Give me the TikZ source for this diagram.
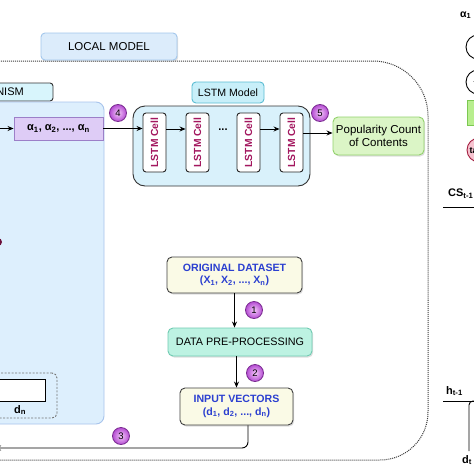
\documentclass[tikz,border=0pt]{standalone}
\usepackage{fontspec}
\setmainfont{Liberation Sans}
\usepackage{graphicx}
\usetikzlibrary{arrows.meta,shadows,calc}
\definecolor{lmfill}{HTML}{DCECFB}
\definecolor{lmdraw}{HTML}{A3C7EC}
\definecolor{panelfill}{HTML}{DDEFFD}
\definecolor{paneldraw}{HTML}{A8C4EC}
\definecolor{tabfill}{HTML}{D8F5FC}
\definecolor{alphafill}{HTML}{DECCF6}
\definecolor{alphadraw}{HTML}{9C7FC8}
\definecolor{lstmfill}{HTML}{D9F1FB}
\definecolor{lstmtabfill}{HTML}{C8EFF9}
\definecolor{lstmtabdraw}{HTML}{5CBDD3}
\definecolor{cellc}{HTML}{A3175F}
\definecolor{popfill}{HTML}{DBF5C6}
\definecolor{popdraw}{HTML}{92D26C}
\definecolor{dsfill}{HTML}{FAFAE6}
\definecolor{dstext}{HTML}{2B3FD0}
\definecolor{ppfill}{HTML}{BDF2E2}
\definecolor{ppdraw}{HTML}{6FCBB2}
\definecolor{numin}{HTML}{F4C8FA}
\definecolor{numout}{HTML}{B44CD2}
\definecolor{numdraw}{HTML}{7A2C90}
\definecolor{greenbar}{HTML}{B8EE8E}
\definecolor{greendraw}{HTML}{7CC852}
\definecolor{tanhfill}{HTML}{F6C2CF}
\definecolor{tanhdraw}{HTML}{A31D3F}
\definecolor{dotred}{HTML}{6B0F3A}
\definecolor{framec}{HTML}{3C3C3C}
\begin{document}
\begin{tikzpicture}[x=1pt,y=-1pt,
  every node/.style={inner sep=0pt, font=\fontsize{11}{13}\selectfont},
  arr/.style={line width=0.9pt, -{Stealth[length=6pt,width=5pt]}},
  ln/.style={line width=0.9pt},
  numc/.style={circle, draw=numdraw, line width=0.8pt, minimum size=17pt, inner color=numin, outer color=numout, font=\fontsize{9.5}{10}\selectfont},
  shad/.style={drop shadow={opacity=0.25, shadow xshift=1.2pt, shadow yshift=-1.5pt}},
  cellbox/.style={draw=black!85, fill=white, line width=0.9pt, rounded corners=3pt, minimum width=23pt, minimum height=59pt, text=cellc, font=\bfseries\fontsize{10.3}{11}\selectfont},
  databox/.style={draw=black!75, fill=dsfill, line width=0.9pt, rounded corners=5pt, align=center, text=dstext, font=\bfseries\fontsize{10.6}{12.5}\selectfont, shad},
]
\path[use as bounding box, clip] (0,0) rectangle (474,474);
\fill[white] (0,0) rectangle (474,474);

% outer dotted frame
\draw[densely dotted, framec, line width=1pt, rounded corners=55pt] (-5,61) -- (428,61) -- (428,300);
\draw[densely dotted, framec, line width=1pt, rounded corners=48pt] (428,300) -- (428,460) -- (-5,460);

% local model label
\node[draw=lmdraw, fill=lmfill, line width=0.9pt, rounded corners=4pt, minimum width=136pt, minimum height=27pt, shad, font=\fontsize{11.5}{13}\selectfont] (localmodel) at (109,46.5) {LOCAL MODEL};

% attention mechanism panel (cut off on the left)
\node[draw=black!80, fill=tabfill, line width=0.9pt, rounded corners=3pt, minimum width=63pt, minimum height=18pt] (atttab) at (21.5,92) {};
\node[anchor=east] (atttxt) at (24,92) {NISM};
\node[draw=paneldraw, fill=panelfill, line width=0.9pt, rounded corners=8pt, minimum width=114pt, minimum height=322pt] (panel) at (47,263) {};
\node[draw=alphadraw, fill=alphafill, line width=0.9pt, minimum width=89pt, minimum height=23pt, font=\bfseries\fontsize{11}{13}\selectfont] (alpha) at (58.5,128.5) {α\textsubscript{1}, α\textsubscript{2}, ..., α\textsubscript{n}};
\coordinate (ain) at (-5,128.5);
\draw[arr] (ain) -- (alpha.west);
\fill[dotred] (-2,242) circle[radius=4pt];
\node[draw=black!55, dash pattern=on 2pt off 1.5pt, line width=0.9pt, rounded corners=5pt, minimum width=67pt, minimum height=45pt] (dnbox) at (23.5,395.5) {};
\node[draw=black, fill=white, line width=0.9pt, minimum width=55pt, minimum height=22pt] (dnrect) at (17.5,390) {};
\node[font=\bfseries\fontsize{11}{13}\selectfont] (dn) at (20,410) {d\textsubscript{n}};

% LSTM model
\node[draw=black!80, fill=lstmfill, line width=0.9pt, rounded corners=12pt, minimum width=177pt, minimum height=80pt] (lstm) at (221.5,146) {};
\node[draw=lstmtabdraw, fill=lstmtabfill, line width=0.9pt, rounded corners=4pt, minimum width=72pt, minimum height=21pt, font=\fontsize{10.6}{12}\selectfont] (lstmtab) at (228,92.5) {LSTM Model};
\node[cellbox] (cell1) at (154.5,142.5) {\rotatebox{90}{LSTM Cell}};
\node[cellbox] (cell2) at (197.5,142.5) {\rotatebox{90}{LSTM Cell}};
\node[cellbox] (cell3) at (248.5,142.5) {\rotatebox{90}{LSTM Cell}};
\node[cellbox] (cell4) at (291.5,142.5) {\rotatebox{90}{LSTM Cell}};
\node[font=\bfseries\fontsize{11}{13}\selectfont] (dots) at (223,130) {...};
\draw[arr] (alpha.east) -- (alpha.east -| cell1.west);
\draw[arr] ([yshift=13.5pt]cell1.east) -- ([yshift=13.5pt]cell2.west);
\draw[arr] ([yshift=13.5pt]cell3.east) -- ([yshift=13.5pt]cell4.west);

\node[draw=popdraw, fill=popfill, line width=0.9pt, rounded corners=5pt, minimum width=91pt, minimum height=38pt, align=center, font=\fontsize{11.5}{13.5}\selectfont, shad] (pop) at (378.5,136) {Popularity Count\\of Contents};
\draw[arr] ([yshift=9.5pt]cell4.east) -- ([yshift=9.5pt]cell4.east -| pop.west);

\node[numc] (n4) at (118,113) {4};
\node[numc] (n5) at (320,113) {5};

% data pipeline
\node[databox, minimum width=135pt, minimum height=36pt] (orig) at (234.5,275) {ORIGINAL DATASET\\(X\textsubscript{1}, X\textsubscript{2}, ..., X\textsubscript{n})};
\node[draw=ppdraw, fill=ppfill, line width=0.9pt, rounded corners=5pt, minimum width=144pt, minimum height=28pt, font=\fontsize{10.8}{12}\selectfont, shad] (prep) at (240,342) {DATA PRE-PROCESSING};
\node[databox, minimum width=113pt, minimum height=37pt] (input) at (236.5,406.5) {INPUT VECTORS\\(d\textsubscript{1}, d\textsubscript{2}, ..., d\textsubscript{n})};
\draw[arr] (orig.south) -- (orig.south |- prep.north);
\draw[arr] (input.north |- prep.south) -- (input.north);
\coordinate (c3) at (-5,448);
\draw[arr, rounded corners=6pt] ([xshift=11.5pt]input.south) |- (c3);
\node[numc] (n1) at (254,310) {1};
\node[numc] (n2) at (255,373) {2};
\node[numc] (n3) at (121,436) {3};

% right strip (cut off)
\node[anchor=west, font=\bfseries\fontsize{10.5}{12}\selectfont] (a1) at (460,15) {α\textsubscript{1}};
\node[circle, draw=black, line width=0.9pt, minimum size=24pt, font=\fontsize{14}{14}\selectfont] (mult) at (478,47) {$\times$};
\node[circle, draw=black, line width=0.9pt, minimum size=24pt, font=\fontsize{14}{14}\selectfont] (plus) at (478,82) {$+$};
\node[draw=greendraw, fill=greenbar, line width=0.9pt, minimum width=24pt, minimum height=25pt] (gbar) at (479,112.5) {};
\node[circle, draw=tanhdraw, fill=tanhfill, line width=0.9pt, minimum size=24pt, font=\bfseries\fontsize{9}{10}\selectfont] (tanh) at (479,150) {tanh};
\node[anchor=west, font=\bfseries\fontsize{11}{13}\selectfont] (cs) at (448,194) {CS\textsubscript{t-1}};
\coordinate (csl) at (443,207);
\coordinate (csr) at (480,207);
\draw[line width=1pt] (csl) -- (csr);
\node[anchor=west, font=\bfseries\fontsize{11}{13}\selectfont] (ht) at (446,391) {h\textsubscript{t-1}};
\coordinate (hl) at (443,401);
\coordinate (hr) at (480,401);
\draw[line width=1pt] (hl) -- (hr);
\node[anchor=west, font=\bfseries\fontsize{11}{13}\selectfont] (dt) at (462,460) {d\textsubscript{t}};
\coordinate (dtt) at (469,451);
\draw[ln, rounded corners=4pt] (dtt) |- (hr);
\end{tikzpicture}
\end{document}
